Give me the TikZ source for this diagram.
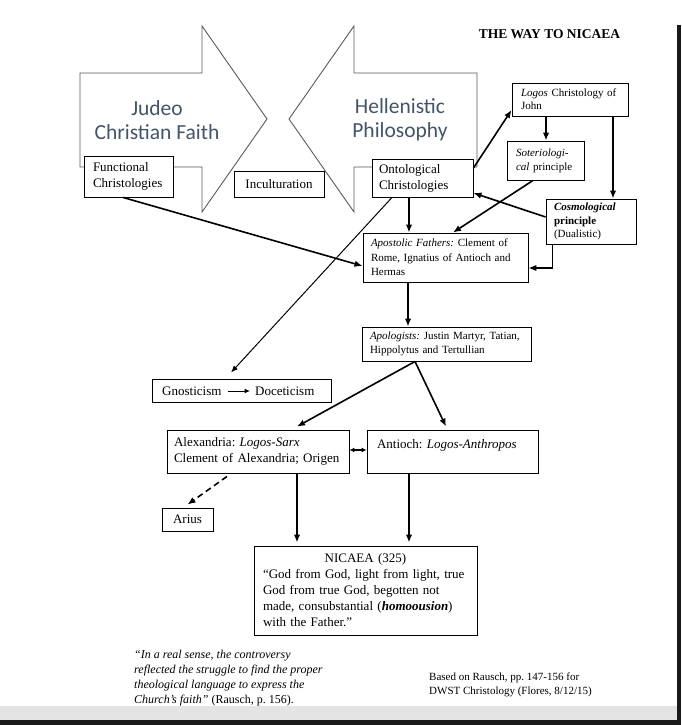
\documentclass[tikz,border=0pt]{standalone}
\usepackage{fontspec}
\setmainfont{Liberation Serif}
\newfontfamily\calibri{Carlito}
\usetikzlibrary{arrows.meta,calc}
\definecolor{slate}{RGB}{68,84,106}
\definecolor{outl}{RGB}{90,90,90}
\definecolor{band}{RGB}{228,228,228}
\frenchspacing
\begin{document}
\begin{tikzpicture}[x=1pt,y=-1pt,
  box/.style={draw=black, line width=0.9pt, fill=white, align=left, inner ysep=0pt},
  fa/.style={font=\fontsize{13}{16}\selectfont\frenchspacing},
  fb/.style={font=\fontsize{11}{14}\selectfont\frenchspacing},
  bigarrow/.style={draw=outl, line width=0.9pt, fill=white},
  sanslab/.style={font=\calibri\fontsize{21.5}{24}\selectfont, text=slate, align=center},
  arr/.style={-{Latex[length=8pt,width=6.5pt]}, line width=1.6pt},
  thinarr/.style={-{Latex[length=7pt,width=5.5pt]}, line width=1pt},
  smallarr/.style={-{Latex[length=5.5pt,width=5pt]}, line width=1pt}
]
\useasboundingbox (0,0) rectangle (681,725);
\fill[white] (0,0) rectangle (681,725);
\fill[band] (0,706) rectangle (681,720);
\fill[black!90] (0,720) rectangle (681,725);
\fill[black!90] (677,25) rectangle (681,725);

% big arrows
\draw[bigarrow] (80,73) -- (202,73) -- (202,26) -- (267,119) -- (202,212) -- (202,167) -- (80,167) -- cycle;
\draw[bigarrow] (477,73) -- (354,73) -- (354,26) -- (289,119) -- (354,212) -- (354,167) -- (477,167) -- cycle;
\node[sanslab] (jud) at (157,120) {Judeo\\Christian Faith};
\node[sanslab] (hel) at (400,120) {Hellenistic\\Philosophy};

% title
\node[font=\bfseries\fontsize{13.5}{15}\selectfont] (title) at (549.5,34) {THE WAY TO NICAEA};

% boxes
\node[box, fa, minimum width=89pt, minimum height=41pt, inner xsep=9pt, text width=71pt] (fun) at (128.5,176.5) {Functional\\Christologies};
\node[box, fa, minimum width=90pt, minimum height=26pt, align=center] (inc) at (279,184) {Inculturation};
\node[box, fa, minimum width=101pt, minimum height=38pt, inner xsep=7pt, text width=87pt] (ont) at (422.5,178) {Ontological\\Christologies};
\node[box, minimum width=116pt, minimum height=33pt, inner xsep=9pt, text width=98pt, font=\fontsize{11}{13}\selectfont\frenchspacing] (logos) at (570,99.5) {\textit{Logos} Christology of\\John};
\node[box, fb, minimum width=77pt, minimum height=39pt, inner xsep=9pt, text width=59pt] (sot) at (545.5,160.5) {\textit{Soteriologi-}\\\textit{cal} principle};
\node[box, minimum width=90pt, minimum height=45pt, inner xsep=8pt, text width=74pt, font=\fontsize{11}{13.5}\selectfont\frenchspacing] (cos) at (591,221.5) {\textbf{\textit{Cosmological}}\\\textbf{principle}\\(Dualistic)};
\node[box, minimum width=165pt, minimum height=49pt, inner xsep=8pt, text width=149pt, font=\fontsize{11}{14.5}\selectfont\frenchspacing] (apo) at (445.5,257.5) {\textit{Apostolic Fathers:} Clement of\\Rome, Ignatius of Antioch and\\Hermas};
\node[box, fb, minimum width=169pt, minimum height=34pt, inner xsep=8pt, text width=153pt] (apol) at (446.5,344) {\mbox{\textit{Apologists:} Justin Martyr, Tatian,}\\Hippolytus and Tertullian};
\node[box, minimum width=179pt, minimum height=23pt] (gno) at (241.5,390.5) {};
\node[fa, anchor=west, inner sep=0pt] (gn) at (162,391) {Gnosticism};
\node[fa, anchor=west, inner sep=0pt] (dc) at (255,391) {Doceticism};
\node[box, fa, minimum width=182pt, minimum height=43pt, inner xsep=7pt, text width=168pt] (alex) at (258,451.5) {Alexandria: \textit{Logos-Sarx}\\Clement of Alexandria; Origen};
\node[box, fa, minimum width=171pt, minimum height=43pt, inner xsep=10pt, text width=151pt] (ant) at (452.5,451.5) {Antioch: \textit{Logos-Anthropos}\\\mbox{}};
\node[box, fa, minimum width=51pt, minimum height=23pt, align=center] (arius) at (187.5,519.5) {Arius};
\node[box, fa, minimum width=223pt, minimum height=89pt, inner xsep=9pt, text width=205pt] (nic) at (365.5,590.5) {\makebox[205pt][c]{NICAEA (325)}\\“God from God, light from light, true\\God from true God, begotten not\\made, consubstantial (\textbf{\textit{homoousion}})\\with the Father.”};

% footer texts
\node[anchor=north west, inner sep=0pt, align=left, font=\fontsize{12}{15}\selectfont\frenchspacing] (quote) at (134,650) {\textit{“In a real sense, the controversy}\\\textit{reflected the struggle to find the proper}\\\textit{theological language to express the}\\\textit{Church’s faith”} (Rausch, p. 156).};
\node[anchor=north west, inner sep=0pt, align=left, font=\fontsize{11}{14}\selectfont\frenchspacing] (based) at (429,673) {Based on Rausch, pp. 147-156 for\\DWST Christology (Flores, 8/12/15)};

% connectors
\draw[arr] ([xshift=-5.5pt]fun.south) -- ([yshift=-8.5pt]apo.west);
\draw[arr] ([yshift=10pt]ont.east) -- ([yshift=-10.5pt]logos.west);
\coordinate (c1) at ([xshift=-24pt]logos.south);
\draw[arr] (c1) -- (c1 |- sot.north);
\coordinate (c2) at ([xshift=43pt]logos.south);
\draw[arr] (c2) -- (c2 |- cos.north);
\draw[arr] ([xshift=-12.5pt]sot.south) -- ([xshift=7.5pt]apo.north);
\draw[arr] ([yshift=4.5pt]cos.west) -- ([yshift=-15pt]ont.east);
\draw[arr] ([xshift=7pt]cos.south west) |- ([yshift=-10.5pt]apo.east);
\coordinate (c3) at ([xshift=-13.5pt]ont.south);
\draw[arr] (c3) -- (c3 |- apo.north);
\draw[thinarr] ([xshift=-30.5pt]ont.south) -- ([xshift=-10.5pt,yshift=6pt]gno.north);
\draw[smallarr, shorten <=6pt, shorten >=5pt] (gn.east) -- (dc.west);
\coordinate (c4) at ([xshift=-37.5pt]apo.south);
\draw[arr] (c4) -- (c4 |- apol.north);
\draw[arr] ([xshift=-31.5pt]apol.south) -- ([xshift=39pt,yshift=3pt]alex.north);
\draw[arr] ([xshift=-31.5pt]apol.south) -- ([xshift=-6.5pt,yshift=3pt]ant.north);
\draw[{Latex[length=5pt,width=5pt]}-{Latex[length=5pt,width=5pt]}, line width=1.4pt] ([yshift=1.5pt]alex.east) -- ([yshift=1.5pt]ant.west);
\draw[arr, dash pattern=on 6pt off 4pt] ([xshift=-31pt,yshift=-3pt]alex.south) -- ([yshift=3pt]arius.north);
\coordinate (c5) at ([xshift=39pt]alex.south);
\draw[arr, shorten >=3pt] (c5) -- (c5 |- nic.north);
\coordinate (c6) at ([xshift=-43.5pt]ant.south);
\draw[arr, shorten >=3pt] (c6) -- (c6 |- nic.north);
\end{tikzpicture}
\end{document}
